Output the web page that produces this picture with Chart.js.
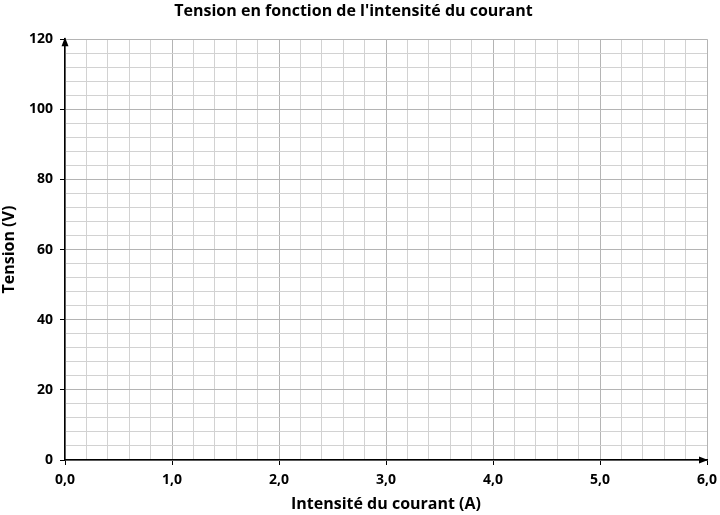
<!DOCTYPE html>
<html>
<head>
<meta charset="utf-8">
<script src="https://cdn.jsdelivr.net/npm/chart.js@4.4.0/dist/chart.umd.min.js"></script>
<style>
  html, body { margin: 0; padding: 0; background: #fff; }
  #wrap { width: 720px; height: 515px; }
</style>
</head>
<body>
<div id="wrap"><canvas id="myChart"></canvas></div>
<script>
// empty measurement table: nothing plotted yet
var intensite = [];
var tension = [];

// axis ranges and steps
var xMin = 0, xMax = 6, xMinor = 0.2, xMajor = 1;
var yMin = 0, yMax = 120, yMinor = 4, yMajor = 20;

var titleText = "Tension en fonction de l'intensité du courant";
var xTitle = 'Intensité du courant (A)';
var yTitle = 'Tension (V)';

var points = intensite.map(function(x, i){ return {x: x, y: tension[i]}; });

function isMajor(v, step){
  return Math.abs(v / step - Math.round(v / step)) < 1e-6;
}

// arrow heads at the end of both axes
var arrows = {
  id: 'arrows',
  afterDraw: function(chart){
    var a = chart.chartArea, ctx = chart.ctx;
    ctx.save();
    ctx.fillStyle = '#000';
    ctx.beginPath();
    ctx.moveTo(a.left, a.top - 2);
    ctx.lineTo(a.left - 3.5, a.top + 7);
    ctx.lineTo(a.left + 3.5, a.top + 7);
    ctx.closePath();
    ctx.fill();
    ctx.beginPath();
    ctx.moveTo(a.right + 1, a.bottom);
    ctx.lineTo(a.right - 8, a.bottom - 3.5);
    ctx.lineTo(a.right - 8, a.bottom + 3.5);
    ctx.closePath();
    ctx.fill();
    ctx.restore();
  }
};

var ctx = document.getElementById('myChart');
var myChart = new Chart(ctx, {
  type: 'scatter',
  data: {
    datasets: [{
      label: yTitle,
      data: points,
      borderColor: '#000',
      backgroundColor: '#000'
    }]
  },
  options: {
    responsive: true,
    maintainAspectRatio: false,
    animation: false,
    layout: { padding: { left: 0, right: 13, top: 0, bottom: 0 } },
    plugins: {
      legend: { display: false },
      tooltip: { enabled: false },
      title: {
        display: true,
        text: titleText,
        color: '#000',
        font: { family: 'Open Sans', size: 16, weight: 'bold' },
        padding: { top: 2, bottom: 18 }
      }
    },
    scales: {
      x: {
        type: 'linear',
        min: xMin,
        max: xMax,
        ticks: {
          stepSize: xMinor,
          autoSkip: false,
          maxRotation: 0,
          padding: 7,
          color: '#000',
          font: { family: 'Open Sans', size: 14, weight: 'bold' },
          callback: function(v){
            return isMajor(v, xMajor) ? v.toFixed(1).replace('.', ',') : '';
          }
        },
        grid: {
          color: function(c){ return isMajor(c.tick.value, xMajor) ? '#b4b4b4' : '#d2d2d2'; },
          tickColor: function(c){ return isMajor(c.tick.value, xMajor) ? '#000' : 'rgba(0,0,0,0)'; },
          tickLength: 5
        },
        border: { color: '#000', width: 1.5 },
        title: {
          display: true,
          text: xTitle,
          color: '#000',
          font: { family: 'Open Sans', size: 16, weight: 'bold' },
          padding: { top: 4, bottom: 1 }
        },
        afterFit: function(scale){
          scale.height = 55;
          scale.paddingRight = 0;
          scale.paddingLeft = 0;
        }
      },
      y: {
        type: 'linear',
        min: yMin,
        max: yMax,
        ticks: {
          stepSize: yMinor,
          autoSkip: false,
          padding: 7,
          color: '#000',
          font: { family: 'Open Sans', size: 14, weight: 'bold' },
          callback: function(v){
            return isMajor(v, yMajor) ? String(v) : '';
          }
        },
        grid: {
          color: function(c){ return isMajor(c.tick.value, yMajor) ? '#b4b4b4' : '#d2d2d2'; },
          tickColor: function(c){ return isMajor(c.tick.value, yMajor) ? '#000' : 'rgba(0,0,0,0)'; },
          tickLength: 5
        },
        border: { color: '#000', width: 1.5 },
        title: {
          display: true,
          text: yTitle,
          color: '#000',
          font: { family: 'Open Sans', size: 16, weight: 'bold' },
          padding: { top: 0, bottom: 4 }
        },
        afterFit: function(scale){ scale.width = 65; }
      }
    }
  },
  plugins: [arrows]
});
</script>
</body>
</html>
